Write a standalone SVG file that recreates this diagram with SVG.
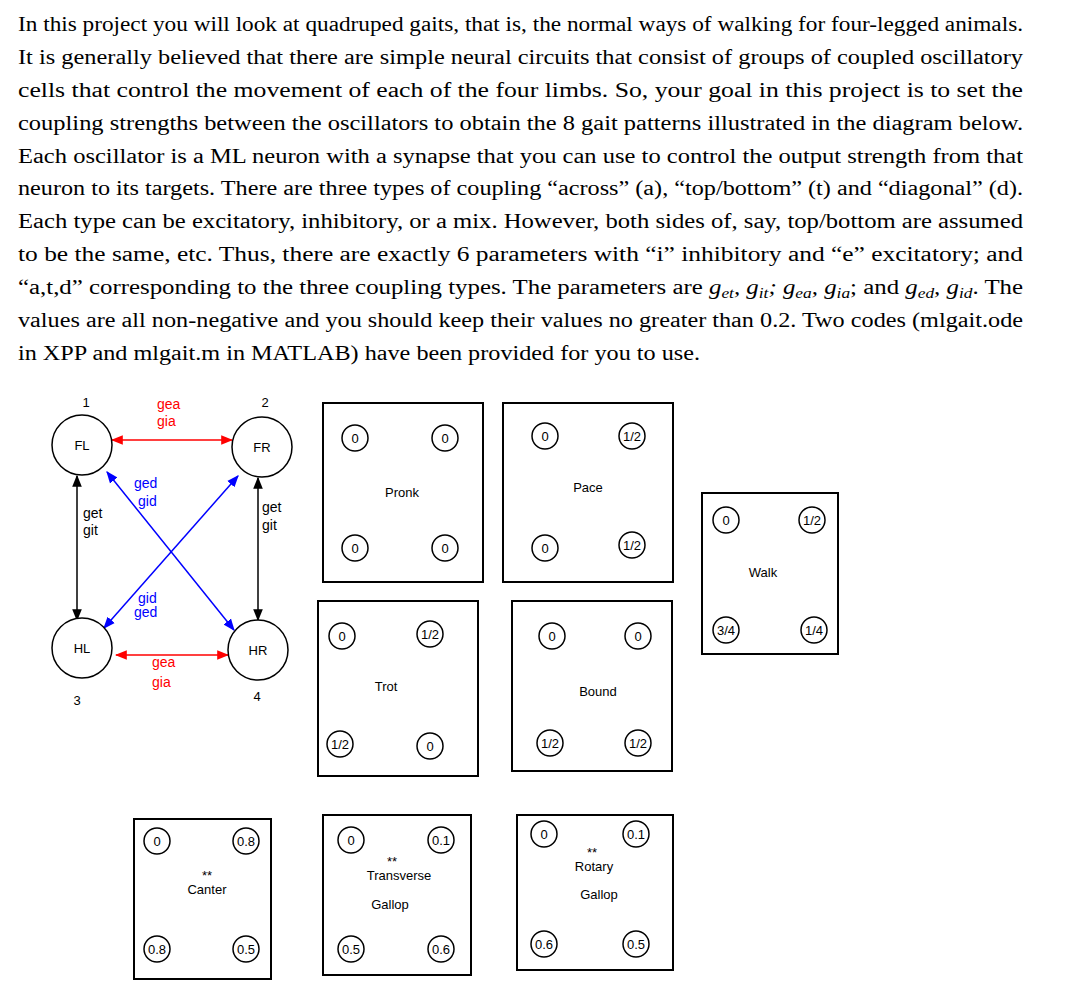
<svg xmlns="http://www.w3.org/2000/svg" width="1066" height="996" viewBox="0 0 1066 996">
<style>
.p{font-family:"Liberation Serif",serif;font-size:20px;fill:#000}
.s{font-family:"Liberation Sans",Arial,sans-serif;font-size:14px;fill:#000}
.c{font-family:"Liberation Sans",Arial,sans-serif;font-size:13px;fill:#000;text-anchor:middle}
.n{fill:#fff;stroke:#000;stroke-width:1.5}
.b{fill:#fff;stroke:#000;stroke-width:2}
.r{fill:#f00}.bl{fill:#00f}
</style>
<defs>
<marker id="ak" viewBox="0 0 10 10" refX="9" refY="5" markerWidth="8" markerHeight="8" orient="auto-start-reverse"><path d="M0,1L10,5L0,9z" fill="#000"/></marker>
<marker id="ar" viewBox="0 0 10 10" refX="9" refY="5" markerWidth="8" markerHeight="8" orient="auto-start-reverse"><path d="M0,1L10,5L0,9z" fill="#f00"/></marker>
<marker id="ab" viewBox="0 0 10 10" refX="9" refY="5" markerWidth="8" markerHeight="8" orient="auto-start-reverse"><path d="M0,1L10,5L0,9z" fill="#00f"/></marker>
</defs>
<rect width="1066" height="996" fill="#fff"/>
<g id="para">
<text class="p" x="18" y="31" textLength="1005" lengthAdjust="spacingAndGlyphs">In this project you will look at quadruped gaits, that is, the normal ways of walking for four-legged animals.</text>
<text class="p" x="18" y="64" textLength="1005" lengthAdjust="spacingAndGlyphs">It is generally believed that there are simple neural circuits that consist of groups of coupled oscillatory</text>
<text class="p" x="18" y="97" textLength="1005" lengthAdjust="spacingAndGlyphs">cells that control the movement of each of the four limbs.  So, your goal in this project is to set the</text>
<text class="p" x="18" y="130" textLength="1005" lengthAdjust="spacingAndGlyphs">coupling strengths between the oscillators to obtain the 8 gait patterns illustrated in the diagram below.</text>
<text class="p" x="18" y="163" textLength="1005" lengthAdjust="spacingAndGlyphs">Each oscillator is a ML neuron with a synapse that you can use to control the output strength from that</text>
<text class="p" x="18" y="195" textLength="1005" lengthAdjust="spacingAndGlyphs">neuron to its targets. There are three types of coupling “across” (a), “top/bottom” (t) and “diagonal” (d).</text>
<text class="p" x="18" y="228" textLength="1005" lengthAdjust="spacingAndGlyphs">Each type can be excitatory, inhibitory, or a mix. However, both sides of, say, top/bottom are assumed</text>
<text class="p" x="18" y="261" textLength="1005" lengthAdjust="spacingAndGlyphs">to be the same, etc.  Thus, there are exactly 6 parameters with “i” inhibitory and “e” excitatory; and</text>
<text class="p" x="18" y="294" textLength="1005" lengthAdjust="spacingAndGlyphs">“a,t,d” corresponding to the three coupling types. The parameters are <tspan font-style="italic">g<tspan font-size="14" dy="4">et</tspan><tspan dy="-4">, g</tspan><tspan font-size="14" dy="4">it</tspan><tspan dy="-4">; g</tspan><tspan font-size="14" dy="4">ea</tspan><tspan dy="-4">, g</tspan><tspan font-size="14" dy="4">ia</tspan></tspan><tspan dy="-4">; and </tspan><tspan font-style="italic">g<tspan font-size="14" dy="4">ed</tspan><tspan dy="-4">, g</tspan><tspan font-size="14" dy="4">id</tspan></tspan><tspan dy="-4">. The</tspan></text>
<text class="p" x="18" y="327" textLength="1005" lengthAdjust="spacingAndGlyphs">values are all non-negative and you should keep their values no greater than 0.2. Two codes (mlgait.ode</text>
<text class="p" x="18" y="360" textLength="682" lengthAdjust="spacingAndGlyphs">in XPP and mlgait.m in MATLAB) have been provided for you to use.</text>
</g>
<g id="connectors" fill="none" stroke-width="1.5">
<line x1="112" y1="440" x2="232" y2="440" stroke="#f00" marker-start="url(#ar)" marker-end="url(#ar)"/>
<line x1="116" y1="655" x2="228" y2="655" stroke="#f00" marker-start="url(#ar)" marker-end="url(#ar)"/>
<line x1="107" y1="472" x2="234" y2="630" stroke="#00f" marker-start="url(#ab)" marker-end="url(#ab)"/>
<line x1="238" y1="476" x2="104" y2="628" stroke="#00f" marker-start="url(#ab)" marker-end="url(#ab)"/>
<line x1="77" y1="476" x2="77" y2="620" stroke="#000" marker-start="url(#ak)" marker-end="url(#ak)"/>
<line x1="258" y1="478" x2="258" y2="620" stroke="#000" marker-start="url(#ak)" marker-end="url(#ak)"/>
<text class="s r" x="157" y="409">gea</text><text class="s r" x="157" y="426">gia</text>
<text class="s r" x="152" y="667">gea</text><text class="s r" x="152" y="687">gia</text>
<text class="s bl" x="134" y="488">ged</text><text class="s bl" x="138" y="506">gid</text>
<text class="s bl" x="138" y="603">gid</text><text class="s bl" x="134" y="617">ged</text>
<text class="s" x="83" y="518">get</text><text class="s" x="83" y="535">git</text>
<text class="s" x="262" y="512">get</text><text class="s" x="262" y="530">git</text>
</g>
<g id="FL"><circle class="n" cx="82" cy="445" r="30"/><text class="c" x="82" y="450">FL</text><text class="c" x="86" y="407">1</text></g>
<g id="FR"><circle class="n" cx="262" cy="447" r="30"/><text class="c" x="262" y="452">FR</text><text class="c" x="265" y="407">2</text></g>
<g id="HL"><circle class="n" cx="82" cy="648" r="30"/><text class="c" x="82" y="653">HL</text><text class="c" x="77" y="705">3</text></g>
<g id="HR"><circle class="n" cx="258" cy="650" r="30"/><text class="c" x="258" y="655">HR</text><text class="c" x="257" y="701">4</text></g>
<g id="pronk"><rect class="b" x="323" y="403" width="160" height="179"/>
<circle class="n" cx="355" cy="438" r="13"/><text class="c" x="355" y="443">0</text>
<circle class="n" cx="445" cy="438" r="13"/><text class="c" x="445" y="443">0</text>
<circle class="n" cx="355" cy="548" r="13"/><text class="c" x="355" y="553">0</text>
<circle class="n" cx="445" cy="548" r="13"/><text class="c" x="445" y="553">0</text>
<text class="c" x="402" y="497">Pronk</text></g>
<g id="pace"><rect class="b" x="503" y="403" width="170" height="179"/>
<circle class="n" cx="545" cy="436" r="13"/><text class="c" x="545" y="441">0</text>
<circle class="n" cx="632" cy="436" r="13"/><text class="c" x="632" y="441">1/2</text>
<circle class="n" cx="545" cy="548" r="13"/><text class="c" x="545" y="553">0</text>
<circle class="n" cx="632" cy="545" r="13"/><text class="c" x="632" y="550">1/2</text>
<text class="c" x="588" y="492">Pace</text></g>
<g id="walk"><rect class="b" x="702" y="493" width="136" height="161"/>
<circle class="n" cx="726" cy="520" r="13"/><text class="c" x="726" y="525">0</text>
<circle class="n" cx="812" cy="520" r="13"/><text class="c" x="812" y="525">1/2</text>
<circle class="n" cx="726" cy="630" r="13"/><text class="c" x="726" y="635">3/4</text>
<circle class="n" cx="814" cy="630" r="13"/><text class="c" x="814" y="635">1/4</text>
<text class="c" x="763" y="577">Walk</text></g>
<g id="trot"><rect class="b" x="318" y="601" width="160" height="175"/>
<circle class="n" cx="342" cy="636" r="13"/><text class="c" x="342" y="641">0</text>
<circle class="n" cx="430" cy="634" r="13"/><text class="c" x="430" y="639">1/2</text>
<circle class="n" cx="340" cy="744" r="13"/><text class="c" x="340" y="749">1/2</text>
<circle class="n" cx="430" cy="746" r="13"/><text class="c" x="430" y="751">0</text>
<text class="c" x="386" y="691">Trot</text></g>
<g id="bound"><rect class="b" x="512" y="601" width="160" height="170"/>
<circle class="n" cx="552" cy="636" r="13"/><text class="c" x="552" y="641">0</text>
<circle class="n" cx="638" cy="636" r="13"/><text class="c" x="638" y="641">0</text>
<circle class="n" cx="550" cy="743" r="13"/><text class="c" x="550" y="748">1/2</text>
<circle class="n" cx="638" cy="743" r="13"/><text class="c" x="638" y="748">1/2</text>
<text class="c" x="598" y="696">Bound</text></g>
<g id="canter"><rect class="b" x="134" y="819" width="137" height="160"/>
<circle class="n" cx="157" cy="841" r="13"/><text class="c" x="157" y="846">0</text>
<circle class="n" cx="246" cy="841" r="13"/><text class="c" x="246" y="846">0.8</text>
<circle class="n" cx="157" cy="949" r="13"/><text class="c" x="157" y="954">0.8</text>
<circle class="n" cx="246" cy="949" r="13"/><text class="c" x="246" y="954">0.5</text>
<text class="c" x="207" y="880">**</text><text class="c" x="207" y="894">Canter</text></g>
<g id="transverse"><rect class="b" x="323" y="815" width="148" height="160"/>
<circle class="n" cx="351" cy="840" r="13"/><text class="c" x="351" y="845">0</text>
<circle class="n" cx="441" cy="840" r="13"/><text class="c" x="441" y="845">0.1</text>
<circle class="n" cx="351" cy="949" r="13"/><text class="c" x="351" y="954">0.5</text>
<circle class="n" cx="441" cy="949" r="13"/><text class="c" x="441" y="954">0.6</text>
<text class="c" x="392" y="866">**</text><text class="c" x="399" y="880">Transverse</text><text class="c" x="390" y="909">Gallop</text></g>
<g id="rotary"><rect class="b" x="517" y="815" width="156" height="155"/>
<circle class="n" cx="544" cy="834" r="13"/><text class="c" x="544" y="839">0</text>
<circle class="n" cx="636" cy="834" r="13"/><text class="c" x="636" y="839">0.1</text>
<circle class="n" cx="544" cy="944" r="13"/><text class="c" x="544" y="949">0.6</text>
<circle class="n" cx="636" cy="944" r="13"/><text class="c" x="636" y="949">0.5</text>
<text class="c" x="592" y="857">**</text><text class="c" x="594" y="871">Rotary</text><text class="c" x="599" y="899">Gallop</text></g>
</svg>
